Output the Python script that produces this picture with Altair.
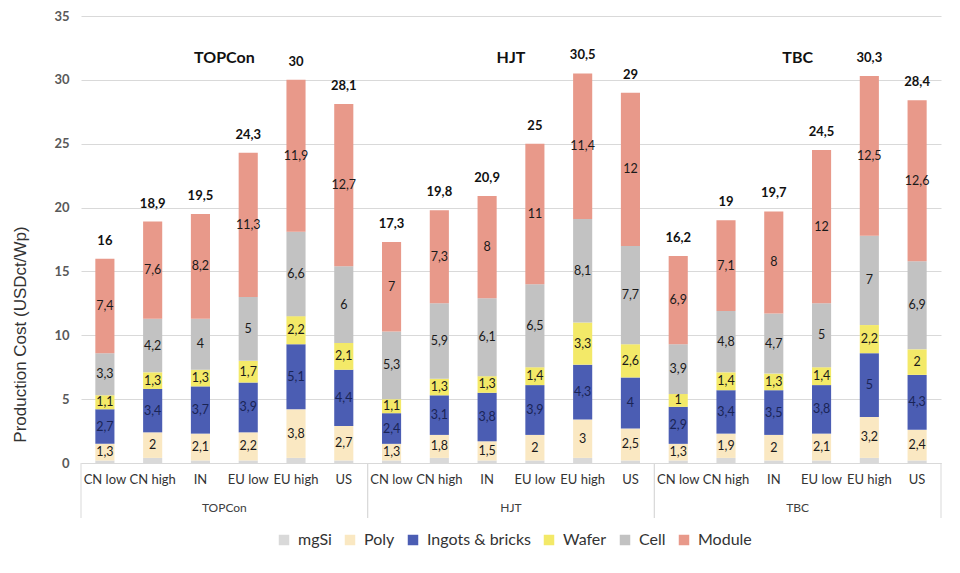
import altair as alt
import pandas as pd

groups = ["TOPCon", "HJT", "TBC"]
cats = ["CN low", "CN high", "IN", "EU low", "EU high", "US"]
segments = ["mgSi", "Poly", "Ingots & bricks", "Wafer", "Cell", "Module"]
colors = ["#d9d9d9", "#fae8c2", "#4b5db3", "#f3e968", "#c2c2c2", "#e8998a"]

# values ordered TOPCon(6), HJT(6), TBC(6)
mgsi = [0.2, 0.4, 0.2, 0.2, 0.4, 0.2, 0.2, 0.4, 0.2, 0.2, 0.4, 0.2, 0.2, 0.4, 0.2, 0.2, 0.4, 0.2]
poly = [1.3, 2, 2.1, 2.2, 3.8, 2.7, 1.3, 1.8, 1.5, 2, 3, 2.5, 1.3, 1.9, 2, 2.1, 3.2, 2.4]
ingots = [2.7, 3.4, 3.7, 3.9, 5.1, 4.4, 2.4, 3.1, 3.8, 3.9, 4.3, 4, 2.9, 3.4, 3.5, 3.8, 5, 4.3]
wafer = [1.1, 1.3, 1.3, 1.7, 2.2, 2.1, 1.1, 1.3, 1.3, 1.4, 3.3, 2.6, 1, 1.4, 1.3, 1.4, 2.2, 2]
cell = [3.3, 4.2, 4, 5, 6.6, 6, 5.3, 5.9, 6.1, 6.5, 8.1, 7.7, 3.9, 4.8, 4.7, 5, 7, 6.9]
module = [7.4, 7.6, 8.2, 11.3, 11.9, 12.7, 7, 7.3, 8, 11, 11.4, 12, 6.9, 7.1, 8, 12, 12.5, 12.6]
totals = [16, 18.9, 19.5, 24.3, 30, 28.1, 17.3, 19.8, 20.9, 25, 30.5, 29, 16.2, 19, 19.7, 24.5, 30.3, 28.4]
y_ticks = [0, 5, 10, 15, 20, 25, 30, 35]


def fmt(v):
    return f"{v:g}".replace(".", ",")


seg_values = [mgsi, poly, ingots, wafer, cell, module]
keys = [f"{g}|{c}" for g in groups for c in cats]

rows = []
for gi, g in enumerate(groups):
    for ci, c in enumerate(cats):
        i = gi * len(cats) + ci
        for si, s in enumerate(segments):
            v = seg_values[si][i]
            rows.append(dict(group=g, cat=c, key=keys[i], segment=s, order=si,
                             value=v, label=fmt(v)))
df = pd.DataFrame(rows)
tot_df = pd.DataFrame(dict(key=keys, total=totals, label=[fmt(t) for t in totals]))
grp_df = pd.DataFrame(dict(group=groups))

W, H = 860, 447
FONT = "Lato"

x_key_scale = alt.Scale(paddingInner=0.6, paddingOuter=0.3)
y_scale = alt.Scale(domain=[0, 35])

x_key_axis = alt.X(
    "key:N", sort=keys, scale=x_key_scale,
    axis=alt.Axis(title=None, labelExpr="split(datum.label, '|')[1]", labelAngle=0,
                  labelFont=FONT, labelFontSize=13, labelColor="#333333",
                  labelPadding=10, ticks=False, domainColor="#d9d9d9", grid=False))
x_key_noaxis = alt.X("key:N", sort=keys, scale=x_key_scale, axis=None)

stacked = alt.Chart(df).transform_stack(
    stack="value", groupby=["key"], sort=[alt.SortField("order", order="ascending")],
    as_=["y0", "y1"])

bars = stacked.mark_bar().encode(
    x=x_key_axis,
    y=alt.Y("y0:Q", scale=y_scale,
            axis=alt.Axis(values=y_ticks, title="Production Cost (USDct/Wp)",
                          titleFont="Liberation Sans", titleFontSize=17,
                          titleFontWeight="normal", titleColor="#333333",
                          titlePadding=24, titleY=318,
                          labelFont=FONT, labelFontWeight="bold", labelFontSize=13,
                          labelColor="#595959", labelPadding=12,
                          domain=False, ticks=False, gridColor="#d9d9d9")),
    y2="y1:Q",
    color=alt.Color("segment:N", scale=alt.Scale(domain=segments, range=colors),
                    legend=alt.Legend(title=None, orient="none", direction="horizontal",
                                      legendX=195, legendY=516,
                                      labelFont=FONT, labelFontSize=16, labelColor="#333333",
                                      symbolType="square", symbolSize=110,
                                      symbolStrokeWidth=0, columnPadding=10,
                                      labelOffset=6)),
)

seg_labels = stacked.transform_filter("datum.order > 0").transform_calculate(
    mid="(datum.y0 + datum.y1) / 2").mark_text(font=FONT, fontSize=12.5).encode(
    x=x_key_noaxis,
    y=alt.Y("mid:Q", scale=y_scale),
    text="label:N",
    color=alt.condition("datum.segment == 'Ingots & bricks'",
                        alt.value("#1a2456"), alt.value("#1a1a1a")),
)

total_labels = alt.Chart(tot_df).mark_text(
    font=FONT, fontSize=13, fontWeight="bold", baseline="bottom", dy=-11,
    color="#111111").encode(
    x=x_key_noaxis,
    y=alt.Y("total:Q", scale=y_scale),
    text="label:N",
)

x_grp = alt.X("group:N", sort=groups, scale=alt.Scale(paddingInner=0, paddingOuter=0),
              axis=None)

grp_titles = alt.Chart(grp_df).mark_text(
    font=FONT, fontSize=16, fontWeight="bold", color="#111111").encode(
    x=x_grp, y=alt.datum(31.7), text="group:N")

grp_labels = alt.Chart(grp_df).mark_text(
    font=FONT, fontSize=12, color="#404040").encode(
    x=x_grp, y=alt.value(H + 45), text="group:N")

sep_left = alt.Chart(grp_df).mark_rule(color="#d9d9d9", strokeWidth=1).encode(
    x=alt.X("group:N", sort=groups, bandPosition=0,
            scale=alt.Scale(paddingInner=0, paddingOuter=0), axis=None),
    y=alt.value(H), y2=alt.value(H + 55))
sep_right = alt.Chart(grp_df).mark_rule(color="#d9d9d9", strokeWidth=1).encode(
    x=alt.X("group:N", sort=groups, bandPosition=1,
            scale=alt.Scale(paddingInner=0, paddingOuter=0), axis=None),
    y=alt.value(H), y2=alt.value(H + 55))

chart = alt.layer(
    bars, seg_labels, total_labels, grp_titles, grp_labels, sep_left, sep_right
).resolve_scale(x="independent").properties(
    width=W, height=H,
    padding={"left": 3, "top": 2, "right": 5, "bottom": 5},
    background="white",
).configure_view(strokeWidth=0)

chart.save("out.html", embed_options={"renderer": "svg", "actions": False})
